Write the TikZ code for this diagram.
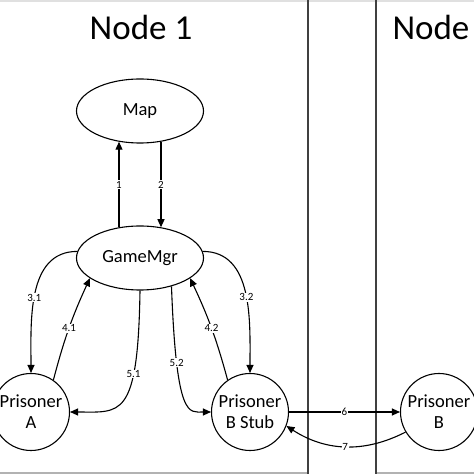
\documentclass[tikz,border=0pt]{standalone}
\usepackage{fontspec}
\setmainfont{Carlito}
\usetikzlibrary{shapes.geometric,arrows.meta}
\begin{document}
\begin{tikzpicture}[x=1pt,y=1pt,
  obj/.style={draw, ellipse, line width=1.1pt, minimum width=127pt, minimum height=64pt, inner sep=0pt, font=\fontsize{18.5}{21}\selectfont},
  proc/.style={draw, circle, line width=1.1pt, minimum size=77pt, inner sep=0pt, align=center, font=\fontsize{18.5}{21}\selectfont},
  conn/.style={line width=1.1pt, -{Triangle[length=8pt,width=7pt]}},
  lbl/.style={fill=white, inner sep=0.8pt, font=\fontsize{11}{11}\selectfont},
  title/.style={font=\fontsize{35}{35}\selectfont},
  border/.style={line width=1.4pt, draw=black!75}]
\useasboundingbox (0,0) rectangle (474,474);
\clip (0,0) rectangle (474,474);
\fill[white] (0,0) rectangle (474,474);
\fill[black!12] (0,472) rectangle (474,474);
\fill[black!30] (0,0) rectangle (308,2);
\fill[black!30] (376,0) rectangle (474,2);
\draw[border] (308,0) -- (308,474);
\draw[border] (376,0) -- (376,474);

\node[title, anchor=base] (t1) at (141,434) {Node 1};
\node[title, anchor=base west] (t2) at (389,434) {Node};

\node[obj] (map) at (140,363) {Map};
\node[obj] (gm) at (140,216) {GameMgr};
\node[proc] (pa) at (31,62) {Prisoner\\A};
\node[proc] (pbs) at (250,62) {Prisoner\\B Stub};
\node[proc] (pb) at (439,62) {Prisoner\\B};

\draw[conn] ([xshift=-21pt,yshift=-1.8pt]gm.north) -- node[lbl]{1} ([xshift=-21pt,yshift=1.8pt]map.south);
\draw[conn] ([xshift=21pt,yshift=1.8pt]map.south) -- node[lbl]{2} ([xshift=21pt,yshift=-1.8pt]gm.north);
\draw[conn] (gm.174) to[out=180,in=90] node[lbl,pos=0.53]{3.1} (pa.north);
\draw[conn] (gm.6) to[out=0,in=90] node[lbl,pos=0.53]{3.2} (pbs.north);
\draw[conn] (pa.55) to[bend left=5] node[lbl]{4.1} (gm.202);
\draw[conn] (pbs.125) to[bend right=5] node[lbl]{4.2} (gm.-22);
\draw[conn] (gm.south) .. controls +(-2,-129.5) and +(50.5,0) .. node[lbl,pos=0.3]{5.1} (pa.east);
\draw[conn] (gm.-42) .. controls +(5,-134) and +(-22,0) .. node[lbl,pos=0.25]{5.2} (pbs.west);
\draw[conn] (pbs.east) -- node[lbl]{6} (pb.west);
\draw[conn] (pb.211) to[bend left=30] node[lbl]{7} (pbs.-21);
\end{tikzpicture}
\end{document}
